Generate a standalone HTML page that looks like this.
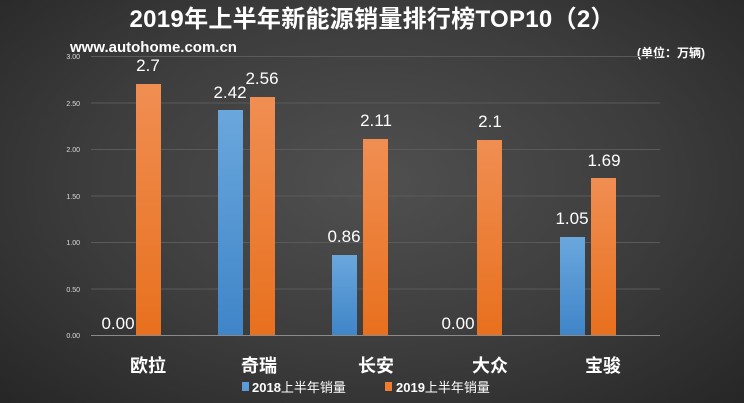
<!DOCTYPE html>
<html><head><meta charset="utf-8"><style>
body{margin:0;width:744px;height:403px;overflow:hidden;background:radial-gradient(ellipse at 50% 45%,#505050 0%,#3c3c3c 55%,#262626 100%);font-family:"Liberation Sans","Noto Sans CJK SC",sans-serif;color:#fff}
</style></head><body>
<svg width="744" height="403" xmlns="http://www.w3.org/2000/svg" style="position:absolute;left:0;top:0">
<defs>
<linearGradient id="b" x1="0" y1="0" x2="0" y2="1"><stop offset="0" stop-color="#6aa7dd"/><stop offset="1" stop-color="#3f85c8"/></linearGradient>
<linearGradient id="o" x1="0" y1="0" x2="0" y2="1"><stop offset="0" stop-color="#f08e52"/><stop offset="1" stop-color="#e8701e"/></linearGradient>
</defs>
<g font-family="Liberation Sans,Noto Sans CJK SC,sans-serif">
<text x="372" y="27" text-anchor="middle" font-size="24" font-weight="bold" fill="#fff" textLength="485">2019年上半年新能源销量排行榜TOP10（2）</text>
<text x="70" y="52" font-size="15" font-weight="bold" fill="#fff">www.autohome.com.cn</text>
<text x="705" y="57" text-anchor="end" font-size="12" font-weight="bold" fill="#fff">(单位：万辆)</text>
<g stroke="#5a5a5a" stroke-width="1">
<line x1="91" y1="56.5" x2="660" y2="56.5"/><line x1="91" y1="103" x2="660" y2="103"/><line x1="91" y1="149.5" x2="660" y2="149.5"/><line x1="91" y1="196" x2="660" y2="196"/><line x1="91" y1="242.5" x2="660" y2="242.5"/><line x1="91" y1="289" x2="660" y2="289"/>
</g>
<line x1="91" y1="335.5" x2="660" y2="335.5" stroke="#8a8a8a"/>
<g font-size="7" fill="#ddd" text-anchor="end">
<text x="80" y="59">3.00</text><text x="80" y="106">2.50</text><text x="80" y="152">2.00</text><text x="80" y="199">1.50</text><text x="80" y="245">1.00</text><text x="80" y="292">0.50</text><text x="80" y="338">0.00</text>
</g>
<rect x="136" y="84" width="25" height="251" fill="url(#o)"/>
<rect x="218" y="110" width="25" height="225" fill="url(#b)"/>
<rect x="250" y="97" width="25" height="238" fill="url(#o)"/>
<rect x="332" y="255" width="25" height="80" fill="url(#b)"/>
<rect x="363" y="139" width="25" height="196" fill="url(#o)"/>
<rect x="477" y="140" width="25" height="195" fill="url(#o)"/>
<rect x="560" y="237" width="25" height="98" fill="url(#b)"/>
<rect x="591" y="178" width="25" height="157" fill="url(#o)"/>
<g font-size="17" fill="#fff" text-anchor="middle">
<text x="118" y="329">0.00</text><text x="148" y="71">2.7</text>
<text x="230" y="98">2.42</text><text x="262" y="84">2.56</text>
<text x="344" y="242">0.86</text><text x="376" y="126">2.11</text>
<text x="458" y="329">0.00</text><text x="490" y="127">2.1</text>
<text x="572" y="224">1.05</text><text x="604" y="166">1.69</text>
</g>
<g font-size="18" font-weight="bold" fill="#fff" text-anchor="middle">
<text x="148" y="372">欧拉</text><text x="259" y="372">奇瑞</text><text x="376" y="372">长安</text><text x="490" y="372">大众</text><text x="603" y="372">宝骏</text>
</g>
<rect x="242" y="382" width="7" height="9" fill="#5b9bd5"/>
<text x="252" y="392" font-size="13" fill="#fff"><tspan font-weight="bold">2018</tspan>上半年销量</text>
<rect x="385" y="382" width="7" height="9" fill="#ed7d31"/>
<text x="396" y="392" font-size="13" fill="#fff"><tspan font-weight="bold">2019</tspan>上半年销量</text>
</g>
</svg>
</body></html>
